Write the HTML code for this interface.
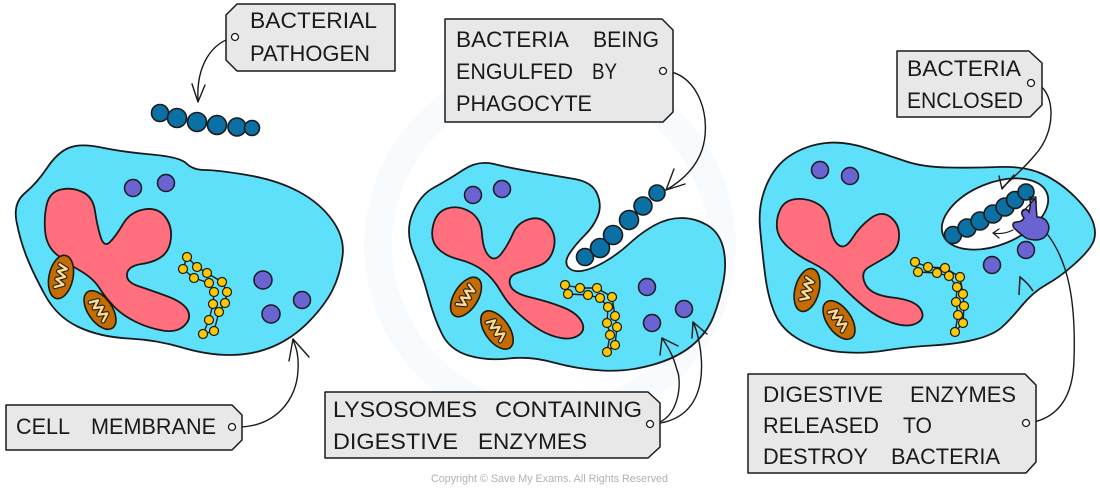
<!DOCTYPE html>
<html><head><meta charset="utf-8"><style>
html,body{margin:0;padding:0;background:#fff;width:1100px;height:489px;overflow:hidden}
svg{display:block}
</style></head><body>
<svg width="1100" height="489" viewBox="0 0 1100 489" xmlns="http://www.w3.org/2000/svg" font-family="'Liberation Sans', sans-serif">
<defs>
<g id="mito">
<ellipse rx="12" ry="22" fill="#c46c00" stroke="#1a1a1a" stroke-width="1.6"/>
<polyline points="-4,-12 4,-9 -4,-5 4,-1 -4,3 4,7 -4,11" fill="none" stroke="#1a1a1a" stroke-width="4.6" stroke-linejoin="round" stroke-linecap="round"/>
<polyline points="-4,-12 4,-9 -4,-5 4,-1 -4,3 4,7 -4,11" fill="none" stroke="#ffd98c" stroke-width="2.4" stroke-linejoin="round" stroke-linecap="round"/>
</g>
</defs>

<!-- faint watermark -->
<circle cx="550" cy="245" r="172" fill="none" stroke="#f8fbfe" stroke-width="28"/>

<g stroke="#1a1a1a" stroke-width="1.8" stroke-linejoin="round">
<!-- LEFT CELL -->
<path fill="#5fe0fa" d="M25,193 Q37,183 47,168 Q57,153 68.5,148 Q80,143 101.5,147.5 Q123,152 151.5,154.5 Q180,157 186.5,163.5 Q193,170 205,170 Q217,170 247,175 Q277,180 298.5,191.5 Q320,203 332.5,220.5 Q345,238 342.5,256.5 Q340,275 332.5,290 Q325,305 309,321.5 Q293,338 273,346.5 Q253,355 230,355 Q207,355 182,347.5 Q157,340 128.5,338.5 Q100,337 78.5,327 Q57,317 45,295 Q33,273 26.5,256.5 Q20,240 16.5,221.5 Q13,203 25,193 Z"/>
<path fill="#ff6f7d" d="M47,203.5 Q50,192 61,189.5 Q72,187 82.5,192 Q93,197 95,211 Q97,225 100.5,236.5 Q104,248 110,242 Q116,236 123,224 Q130,212 143.5,209.5 Q157,207 164.5,216 Q172,225 171,237.5 Q170,250 162.5,256 Q155,262 141.5,264 Q128,266 127,274 Q126,282 138,286 Q150,290 166.5,296 Q183,302 187.5,310 Q192,318 184.5,325.5 Q177,333 162.5,330.5 Q148,328 135,321.5 Q122,315 113.5,306 Q105,297 99,287.5 Q93,278 79,270 Q65,262 55.5,253.5 Q46,245 45,230 Q44,215 47,203.5 Z"/>

<!-- MIDDLE CELL -->
<path fill="#5fe0fa" d="M412.5,213.5 Q420,195 434,187.5 Q448,180 463,170 Q478,160 494,164 Q510,168 533.5,172 Q557,176 574.5,179 Q592,182 597,193.5 Q602,205 598,215.5 Q594,226 584.5,235.5 Q575,245 569.5,253.5 Q564,262 568,267 Q572,272 581,271 Q590,270 603.5,262.5 Q617,255 629.5,243.5 Q642,232 655,225 Q668,218 681.5,218 Q695,218 707,225 Q719,232 723,247 Q727,262 723.5,281 Q720,300 713.5,316.5 Q707,333 692,345.5 Q677,358 652,365 Q627,372 602,370.5 Q577,369 553.5,362.5 Q530,356 508.5,358.5 Q487,361 468.5,355.5 Q450,350 442,334 Q434,318 428,295.5 Q422,273 413.5,252.5 Q405,232 412.5,213.5 Z"/>
<path fill="#ff6f7d" d="M433,226 Q436,212 447,208.5 Q458,205 469.5,211.5 Q481,218 482,234 Q483,250 489,256 Q495,262 501.5,253.5 Q508,245 513,233.5 Q518,222 530,219 Q542,216 549.5,226 Q557,236 553.5,249 Q550,262 538,266 Q526,270 517,273 Q508,276 510,284.5 Q512,293 531,297.5 Q550,302 563.5,307.5 Q577,313 581.5,321.5 Q586,330 579,335 Q572,340 561,338 Q550,336 540,330 Q530,324 519,314 Q508,304 500.5,291 Q493,278 483,270.5 Q473,263 459,259.5 Q445,256 437.5,248 Q430,240 433,226 Z"/>

<!-- RIGHT CELL -->
<path fill="#5fe0fa" d="M766.5,185 Q775,165 791,155 Q807,145 826,143 Q845,141 867.5,148.5 Q890,156 906.5,161.5 Q923,167 948,167.5 Q973,168 999,167 Q1025,166 1042.5,174 Q1060,182 1075,197 Q1090,212 1093.5,223.5 Q1097,235 1092.5,243.5 Q1088,252 1074,264.5 Q1060,277 1046.5,284.5 Q1033,292 1021.5,306 Q1010,320 1001.5,327.5 Q993,335 975,339.5 Q957,344 932,345.5 Q907,347 885,350.5 Q863,354 840.5,352 Q818,350 800,340 Q782,330 775,314 Q768,298 765,274 Q762,250 760,227.5 Q758,205 766.5,185 Z"/>
<path fill="#ff6f7d" d="M780.5,209 Q785,200 796.5,199 Q808,198 818,204 Q828,210 830,225 Q832,240 838.5,245 Q845,250 852.5,238 Q860,226 871,218 Q882,210 891,217.5 Q900,225 899,237.5 Q898,250 888,256 Q878,262 869,267 Q860,272 865,283.5 Q870,295 892.5,297.5 Q915,300 920.5,309 Q926,318 917,323 Q908,328 893,323 Q878,318 864,306.5 Q850,295 838.5,282.5 Q827,270 812.5,263 Q798,256 788,247 Q778,238 777,228 Q776,218 780.5,209 Z"/>
<ellipse cx="995" cy="214" rx="56" ry="31" transform="rotate(-22 995 214)" fill="#ffffff"/>
</g>

<!-- small membrane fold right cell -->
<path d="M1019,295 L1020,277 Q1028,283 1033,291" fill="none" stroke="#1a1a1a" stroke-width="1.5"/>

<!-- mitochondria -->
<use href="#mito" transform="translate(61,277) rotate(12)"/>
<use href="#mito" transform="translate(100,310) rotate(-35)"/>
<use href="#mito" transform="translate(466,297) rotate(32)"/>
<use href="#mito" transform="translate(497,330) rotate(-36)"/>
<use href="#mito" transform="translate(807,290) rotate(15)"/>
<use href="#mito" transform="translate(839,320) rotate(-35)"/>

<!-- ER strands -->
<g fill="none" stroke="#1a1a1a" stroke-width="1.4" stroke-linejoin="round">
<path d="M187,257 L197,267 L207,273 L222,282 L227,292 L225,303 L219,312 L214,331 L203,334 L209,320 L213,304 L214,292 L209,283 L194,278 L183,269 Z"/>
<path d="M565,285 L580,288 L597,288 L612,297 L615,316 L617,327 L615,345 L607,352 L610,335 L607,323 L608,307 L600,298 L588,295 L568,294 Z"/>
<path d="M915,262 L928,267 L945,268 L960,277 L963,294 L964,306 L963,323 L955,332 L958,315 L956,302 L957,287 L949,276 L937,273 L918,272 Z"/>
</g>
<g fill="#ffc800" stroke="#1a1a1a" stroke-width="1.2">
<circle cx="187" cy="257" r="4.5"/><circle cx="197" cy="267" r="4.5"/><circle cx="207" cy="273" r="4.5"/><circle cx="222" cy="282" r="4.5"/><circle cx="227" cy="292" r="4.5"/><circle cx="225" cy="303" r="4.5"/><circle cx="219" cy="312" r="4.5"/><circle cx="214" cy="331" r="4.5"/>
<circle cx="183" cy="269" r="4.5"/><circle cx="194" cy="278" r="4.5"/><circle cx="209" cy="283" r="4.5"/><circle cx="214" cy="292" r="4.5"/><circle cx="213" cy="304" r="4.5"/><circle cx="209" cy="320" r="4.5"/><circle cx="203" cy="334" r="4.5"/>
<circle cx="565" cy="285" r="4.5"/><circle cx="580" cy="288" r="4.5"/><circle cx="597" cy="288" r="4.5"/><circle cx="612" cy="297" r="4.5"/><circle cx="615" cy="316" r="4.5"/><circle cx="617" cy="327" r="4.5"/><circle cx="615" cy="345" r="4.5"/>
<circle cx="568" cy="294" r="4.5"/><circle cx="588" cy="295" r="4.5"/><circle cx="600" cy="298" r="4.5"/><circle cx="608" cy="307" r="4.5"/><circle cx="607" cy="323" r="4.5"/><circle cx="610" cy="335" r="4.5"/><circle cx="607" cy="352" r="4.5"/>
<circle cx="915" cy="262" r="4.5"/><circle cx="928" cy="267" r="4.5"/><circle cx="945" cy="268" r="4.5"/><circle cx="960" cy="277" r="4.5"/><circle cx="963" cy="294" r="4.5"/><circle cx="964" cy="306" r="4.5"/><circle cx="963" cy="323" r="4.5"/>
<circle cx="918" cy="272" r="4.5"/><circle cx="937" cy="273" r="4.5"/><circle cx="949" cy="276" r="4.5"/><circle cx="957" cy="287" r="4.5"/><circle cx="956" cy="302" r="4.5"/><circle cx="958" cy="315" r="4.5"/><circle cx="955" cy="332" r="4.5"/>
</g>

<!-- bacteria chains -->
<g fill="#0b70a4" stroke="#1a1a1a" stroke-width="1.6">
<circle cx="160" cy="113" r="8.5"/><circle cx="177" cy="118" r="9.5"/><circle cx="197" cy="122" r="9.5"/><circle cx="217" cy="125" r="9.5"/><circle cx="237" cy="127" r="9"/><circle cx="252" cy="128" r="7.5"/>
<circle cx="585" cy="257" r="8.5"/><circle cx="600" cy="248" r="9.5"/><circle cx="613" cy="235" r="9.5"/><circle cx="629" cy="220" r="9.5"/><circle cx="643" cy="206" r="9"/><circle cx="657" cy="193" r="8"/>
<circle cx="953" cy="235" r="8.5"/><circle cx="967" cy="228" r="9"/><circle cx="980" cy="221" r="9"/><circle cx="993" cy="214" r="9"/><circle cx="1005" cy="207" r="9"/><circle cx="1015" cy="200" r="8.5"/><circle cx="1026" cy="192" r="8"/>
</g>

<!-- lysosomes -->
<g fill="#6a63d2" stroke="#1a1a1a" stroke-width="1.5">
<circle cx="133" cy="188" r="8.5"/><circle cx="166" cy="183" r="8.5"/><circle cx="263" cy="280" r="9"/><circle cx="302" cy="300" r="8.5"/><circle cx="271" cy="314" r="9"/>
<circle cx="473" cy="195" r="8.5"/><circle cx="502" cy="189" r="8.5"/><circle cx="647" cy="287" r="8.5"/><circle cx="684" cy="309" r="8.5"/><circle cx="652" cy="323" r="8.5"/>
<circle cx="820" cy="170" r="8.5"/><circle cx="850" cy="176" r="8.5"/><circle cx="1026" cy="250" r="8.5"/><circle cx="992" cy="265" r="8.5"/>
<path d="M1026,238 Q1019,233 1014,228 Q1011,223 1016,222 Q1022,222 1024,218 Q1020,213 1023,210 Q1027,208 1029,212 Q1031,205 1030,200 Q1033,197 1036,201 Q1036,208 1037,217 Q1047,217 1049,227 Q1048,239 1037,240 Q1030,240 1026,238 Z"/>
</g>

<!-- small arrows inside vacuole -->
<g fill="none" stroke="#1a1a1a" stroke-width="1.2" stroke-linecap="round" stroke-linejoin="round">
<path d="M1013,230 Q1003,235 993,233"/><path d="M999,229 L993,233 L999,238"/>
<path d="M1022,212 Q1030,205 1036,197"/><path d="M1029,197 L1036,197 L1036,204"/>
</g>

<!-- connectors -->
<g fill="none" stroke="#1a1a1a" stroke-width="1.4" stroke-linecap="round" stroke-linejoin="round">
<path d="M235,37 C212,42 196,65 198,101"/><path d="M192,84 L198,102 L205,85"/>
<path d="M235,427 C275,428 297,400 298,370 C299,355 296,347 293,340"/><path d="M289,361 L293,339 L309,357"/>
<path d="M666,71 C700,75 712,120 702,150 C695,170 680,182 666,190"/><path d="M674,169 L666,190 L685,184"/>
<path d="M653,424 C680,420 682,380 677,370 C673,355 668,347 662,338"/><path d="M660,355 L662,338 L678,346"/>
<path d="M653,424 C700,420 705,380 700,347 C698,335 696,328 693,322"/><path d="M692,338 L693,322 L707,334"/>
<path d="M1034,83 C1055,88 1058,130 1035,155 C1025,167 1013,178 1002,188"/><path d="M999,176 L1002,189 L1014,175"/>
<path d="M1029,423 C1060,418 1073,395 1074,360 C1076,300 1068,262 1048,235"/>
</g>

<!-- label boxes -->
<g fill="#e8e8e8" stroke="#1a1a1a" stroke-width="1.5" stroke-linejoin="round">
<polygon points="237,4 395,4 395,71 237,71 226,60 226,15"/>
<polygon points="6,405 232,405 242,415 242,440 232,450 6,450"/>
<polygon points="445,19 662,19 673,30 673,112 663,122 445,122"/>
<polygon points="325,392 648,392 660,403 660,447 648,458 325,458"/>
<polygon points="897,51 1029,51 1042,63 1042,105 1030,117 897,117"/>
<polygon points="748,374 1025,374 1036,385 1036,462 1026,473 748,473"/>
</g>
<g fill="#ffffff" stroke="#1a1a1a" stroke-width="1.3">
<circle cx="235" cy="37" r="3.5"/><circle cx="232" cy="427" r="3.5"/><circle cx="663" cy="71" r="3.5"/><circle cx="650" cy="424" r="3.5"/><circle cx="1031" cy="83" r="3.5"/><circle cx="1026" cy="423" r="3.5"/>
</g>

<!-- label text -->
<g fill="#1a1a1a" font-size="22">
<text x="250" y="28" textLength="127" lengthAdjust="spacingAndGlyphs">BACTERIAL</text>
<text x="250" y="61" textLength="120" lengthAdjust="spacingAndGlyphs">PATHOGEN</text>
<text x="16" y="434" textLength="54" lengthAdjust="spacingAndGlyphs">CELL</text>
<text x="91" y="434" textLength="125" lengthAdjust="spacingAndGlyphs">MEMBRANE</text>
<text x="456" y="47" textLength="113" lengthAdjust="spacingAndGlyphs">BACTERIA</text>
<text x="593" y="47" textLength="66" lengthAdjust="spacingAndGlyphs">BEING</text>
<text x="456" y="79" textLength="117" lengthAdjust="spacingAndGlyphs">ENGULFED</text>
<text x="592" y="79" textLength="25" lengthAdjust="spacingAndGlyphs">BY</text>
<text x="456" y="111" textLength="136" lengthAdjust="spacingAndGlyphs">PHAGOCYTE</text>
<text x="333" y="417" textLength="144" lengthAdjust="spacingAndGlyphs">LYSOSOMES</text>
<text x="495" y="417" textLength="147" lengthAdjust="spacingAndGlyphs">CONTAINING</text>
<text x="333" y="449" textLength="125" lengthAdjust="spacingAndGlyphs">DIGESTIVE</text>
<text x="478" y="449" textLength="109" lengthAdjust="spacingAndGlyphs">ENZYMES</text>
<text x="907" y="76" textLength="114" lengthAdjust="spacingAndGlyphs">BACTERIA</text>
<text x="907" y="108" textLength="116" lengthAdjust="spacingAndGlyphs">ENCLOSED</text>
<text x="763" y="402" textLength="120" lengthAdjust="spacingAndGlyphs">DIGESTIVE</text>
<text x="910" y="402" textLength="106" lengthAdjust="spacingAndGlyphs">ENZYMES</text>
<text x="763" y="433" textLength="116" lengthAdjust="spacingAndGlyphs">RELEASED</text>
<text x="903" y="433" textLength="29" lengthAdjust="spacingAndGlyphs">TO</text>
<text x="763" y="464" textLength="105" lengthAdjust="spacingAndGlyphs">DESTROY</text>
<text x="891" y="464" textLength="109" lengthAdjust="spacingAndGlyphs">BACTERIA</text>
</g>

<text x="431" y="482" font-size="11" fill="#b0b0b0" textLength="237" lengthAdjust="spacingAndGlyphs">Copyright © Save My Exams. All Rights Reserved</text>
</svg>
</body></html>
